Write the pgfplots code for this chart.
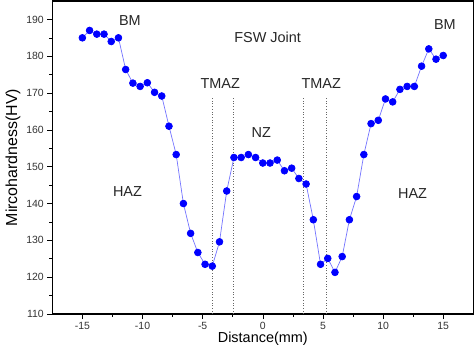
\documentclass[border=0pt]{standalone}
\usepackage{pgfplots}
\pgfplotsset{compat=1.18}
\usepackage{fontspec}
\setmainfont{Liberation Sans}
\begin{document}
\begin{tikzpicture}
\begin{axis}[
  scale only axis,
  width=421bp, height=313bp,
  xmin=-17.5, xmax=17.5,
  ymin=110, ymax=195,
  xtick={-15,-10,-5,0,5,10,15},
  ytick={110,120,...,190},
  minor x tick num=1,
  minor y tick num=1,
  tick align=outside,
  xtick pos=bottom, ytick pos=left,
  major tick length=5bp, minor tick length=3bp,
  axis line style={line width=1.3pt},
  every tick/.style={black, line width=0.6pt},
  tick label style={font=\fontsize{10.5}{12}\selectfont, text=black!80},
  /pgf/number format/assume math mode=true,
  xlabel={Distance(mm)},
  ylabel={Mircohardness(HV)},
  xlabel style={font=\fontsize{14.5}{16}\selectfont, yshift=5bp},
  ylabel style={font=\fontsize{16}{18}\selectfont, yshift=-1bp},
  clip=false,
]
\addplot[color=blue!55!white, line width=0.7pt, mark=*, mark size=3.4bp,
  mark options={fill=blue, draw=blue}] table {
x y
-15.0 185.0
-14.4 187.0
-13.8 186.0
-13.2 186.0
-12.6 184.0
-12.0 185.0
-11.4 176.4
-10.8 172.7
-10.2 171.8
-9.6 172.8
-9.0 170.2
-8.4 169.2
-7.8 161.0
-7.2 153.3
-6.6 140.0
-6.0 131.9
-5.4 126.7
-4.8 123.5
-4.2 123.0
-3.6 129.6
-3.0 143.4
-2.4 152.5
-1.8 152.5
-1.2 153.3
-0.6 152.5
0.0 151.0
0.6 151.0
1.2 151.8
1.8 148.9
2.4 149.6
3.0 146.8
3.6 145.3
4.2 135.6
4.8 123.5
5.4 125.1
6.0 121.3
6.6 125.6
7.2 135.6
7.8 141.9
8.4 153.3
9.0 161.7
9.6 162.6
10.2 168.4
10.8 167.6
11.4 171.0
12.0 171.8
12.6 171.8
13.2 177.3
13.8 182.0
14.4 179.2
15.0 180.2
};
\addplot[gray!80!black, dotted, line width=0.7pt] coordinates {(-4.17,110) (-4.17,168.9)};
\addplot[gray!80!black, dotted, line width=0.7pt] coordinates {(-2.42,110) (-2.42,168.9)};
\addplot[gray!80!black, dotted, line width=0.7pt] coordinates {(3.33,110) (3.33,168.9)};
\addplot[gray!80!black, dotted, line width=0.7pt] coordinates {(5.28,110) (5.28,168.9)};
\begin{scope}[every node/.style={font=\fontsize{14.5}{16}\selectfont, text=black!85}]
\node at (axis cs:-11.05,189.7) {BM};
\node at (axis cs:15.14,188.6) {BM};
\node at (axis cs:0.4,185.0) {FSW Joint};
\node at (axis cs:-3.54,172.7) {TMAZ};
\node at (axis cs:4.86,172.7) {TMAZ};
\node at (axis cs:-0.13,159.4) {NZ};
\node at (axis cs:-11.25,143.2) {HAZ};
\node at (axis cs:12.45,142.7) {HAZ};
\end{scope}
\end{axis}
\pgfresetboundingbox
\useasboundingbox (-52.3bp,-37bp) rectangle (421.7bp,314bp);
\end{tikzpicture}
\end{document}
